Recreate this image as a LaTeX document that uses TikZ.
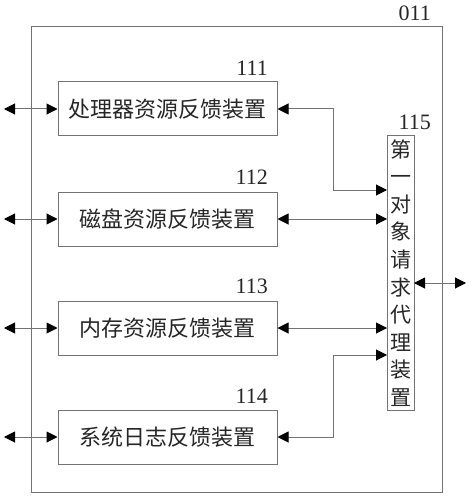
\documentclass[tikz,border=0pt]{standalone}
\usepackage{fontspec}
\setmainfont{Liberation Serif}
\newfontfamily\cjk{Noto Sans CJK SC}
\usetikzlibrary{arrows.meta}
\begin{document}
\begin{tikzpicture}[x=1pt,y=-1pt,
  frame/.style={draw=black!55, line width=1pt},
  box/.style={frame, inner sep=0pt, minimum width=219pt, minimum height=54pt,
    font=\cjk\fontsize{22}{22}\selectfont, text=black!85},
  conn/.style={draw=black!55, line width=1pt, {Triangle[length=11pt,width=11pt,black]}-{Triangle[length=11pt,width=11pt,black]}},
  lbl/.style={font=\fontsize{22}{22}\selectfont, inner sep=0pt, text=black!85}
]
\useasboundingbox (0,0) rectangle (474,497);
\node[frame, inner sep=0pt, minimum width=411pt, minimum height=465pt] (outer) at (236.5,259.5) {};
\node[lbl, anchor=east] (l011) at (431,13) {011};

\node[box] (b111) at (167.5,109) {处理器资源反馈装置};
\node[box] (b112) at (167.5,219) {磁盘资源反馈装置};
\node[box] (b113) at (167.5,328) {内存资源反馈装置};
\node[box] (b114) at (167.5,437) {系统日志反馈装置};

\node[lbl, anchor=east] (l111) at (268,68) {111};
\node[lbl, anchor=east] (l112) at (268,177) {112};
\node[lbl, anchor=east] (l113) at (268,286) {113};
\node[lbl, anchor=east] (l114) at (268,396) {114};

\node[frame, inner sep=0pt, minimum width=27pt, minimum height=274pt,
  font=\cjk\fontsize{21}{27.6}\selectfont, text=black!85, align=center] (b115) at (400.5,273)
  {第\\一\\对\\象\\请\\求\\代\\理\\装\\置};
\node[lbl, anchor=east] (l115) at (431,122) {115};

% left external connectors
\coordinate (x1) at (4,109);
\coordinate (x2) at (4,219);
\coordinate (x3) at (4,328);
\coordinate (x4) at (4,437);
\draw[conn] (x1) -- (b111.west);
\draw[conn] (x2) -- (b112.west);
\draw[conn] (x3) -- (b113.west);
\draw[conn] (x4) -- (b114.west);

% connectors to 115
\coordinate (e1) at (387,190);
\coordinate (e2) at (387,219);
\coordinate (e3) at (387,328);
\coordinate (e4) at (387,355);
\coordinate (k1) at (333,190);
\coordinate (k4) at (333,355);
\draw[conn] (b111.east) -| (k1) -- (e1);
\draw[conn] (b112.east) -- (e2);
\draw[conn] (b113.east) -- (e3);
\draw[conn] (b114.east) -| (k4) -- (e4);

% right external connector
\coordinate (r0) at (414,283);
\coordinate (r1) at (466,283);
\draw[conn] (r0) -- (r1);
\end{tikzpicture}
\end{document}
